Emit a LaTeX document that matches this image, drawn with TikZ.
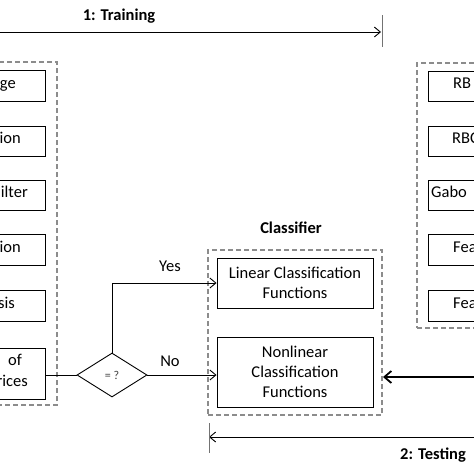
\documentclass[tikz,border=0pt]{standalone}
\usepackage{fontspec}
\setmainfont{Carlito}
\usetikzlibrary{shapes.geometric,arrows.meta}
\tikzset{
  box/.style={draw=black, line width=0.9pt, inner sep=0pt, align=center,
    font=\fontsize{16.5}{20}\selectfont},
  grp/.style={draw=black!45, line width=2pt, dash pattern=on 5pt off 3pt, inner sep=0pt},
  frag/.style={inner sep=0pt, font=\fontsize{16.5}{20}\selectfont},
  lbl/.style={inner sep=0pt, font=\fontsize{16.5}{20}\selectfont},
  ttl/.style={inner sep=0pt, font=\fontsize{16.5}{20}\selectfont\bfseries},
  conn/.style={draw=black, line width=0.9pt, -{Straight Barb[length=6pt,width=10pt]}},
  plain/.style={draw=black, line width=0.9pt},
  tick/.style={draw=black!55, line width=0.8pt},
}
\begin{document}
\begin{tikzpicture}[x=1pt,y=-1pt]
\useasboundingbox (0,0) rectangle (474,474);
\clip (0,0) rectangle (474,474);
\fill[white] (0,0) rectangle (474,474);

% top training arrow
\coordinate (trS) at (-10,32);
\coordinate (trE) at (381,32);
\draw[conn] (trS) -- (trE);
\coordinate (tt1) at (382,15);
\coordinate (tt2) at (382,47);
\draw[tick] (tt1) -- (tt2);
\node[ttl] (training) at (119,16) {1: Training};

% left group
\node[grp, minimum width=140, minimum height=343] (lgrp) at (-13,233.5) {};
\node[box, minimum width=110, minimum height=31] (l1) at (-10,85.5) {};
\node[box, minimum width=110, minimum height=30] (l2) at (-10,141) {};
\node[box, minimum width=110, minimum height=30] (l3) at (-10,195) {};
\node[box, minimum width=110, minimum height=31] (l4) at (-10,249.5) {};
\node[box, minimum width=110, minimum height=31] (l5) at (-10,305.5) {};
\node[box, minimum width=110, minimum height=51] (l6) at (-10,373.5) {};
\node[frag, anchor=mid east] (f1) at (16,86) {ge};
\node[frag, anchor=mid east] (f2) at (21,141) {ion};
\node[frag, anchor=mid east] (f3) at (28,195) {ilter};
\node[frag, anchor=mid east] (f4) at (21,250) {ion};
\node[frag, anchor=mid east] (f5) at (15,306) {sis};
\node[frag, anchor=mid east] (f6a) at (22,363) {of};
\node[frag, anchor=mid east] (f6b) at (28,384) {rices};

% decision
\node[draw=black, line width=0.9pt, shape=diamond, inner sep=0pt,
  minimum width=70, minimum height=44, aspect=1.59,
  font=\fontsize{12}{14}\selectfont, text=black!75] (dia) at (112,375) {= ?};
\draw[plain] (dia.west) -- (dia.west -| l6.east);

% classifier group
\node[grp, minimum width=174, minimum height=165] (cgrp) at (295,332.5) {};
\node[ttl] (clsT) at (291,228) {Classifier};
\node[box, minimum width=156, minimum height=50] (lin) at (295,283) {Linear Classification\\Functions};
\node[box, minimum width=156, minimum height=70] (nl) at (295,372) {Nonlinear\\Classification\\Functions};

\draw[conn] (dia.north) |- (lin.west);
\draw[conn] (dia.east) -- (dia.east -| nl.west);
\node[lbl] (yes) at (170,266) {Yes};
\node[lbl] (no) at (170,361) {No};

% right group
\node[grp, minimum width=140, minimum height=265] (rgrp) at (487,195.5) {};
\node[box, minimum width=110, minimum height=30] (r1) at (483,86) {};
\node[box, minimum width=110, minimum height=30] (r2) at (483,141) {};
\node[box, minimum width=110, minimum height=30] (r3) at (483,195) {};
\node[box, minimum width=110, minimum height=31] (r4) at (483,249.5) {};
\node[box, minimum width=110, minimum height=31] (r5) at (483,305.5) {};
\node[frag, anchor=mid west] (g1) at (453,86) {RB};
\node[frag, anchor=mid west] (g2) at (452,141) {RBC};
\node[frag, anchor=mid west] (g3) at (431,195) {Gabo};
\node[frag, anchor=mid west] (g4) at (453,250) {Fea};
\node[frag, anchor=mid west] (g5) at (453,306) {Fea};

% thick arrow into classifier
\coordinate (thS) at (490,377);
\draw[draw=black, line width=1.8pt, -{Straight Barb[length=7pt,width=12pt]}] (thS) -- (thS -| cgrp.east);

% bottom testing arrow
\coordinate (teS) at (484,437);
\coordinate (teE) at (209,437);
\draw[conn] (teS) -- (teE);
\coordinate (bt1) at (209,423);
\coordinate (bt2) at (209,453);
\draw[tick] (bt1) -- (bt2);
\node[ttl] (testing) at (433,455) {2: Testing};
\end{tikzpicture}
\end{document}
